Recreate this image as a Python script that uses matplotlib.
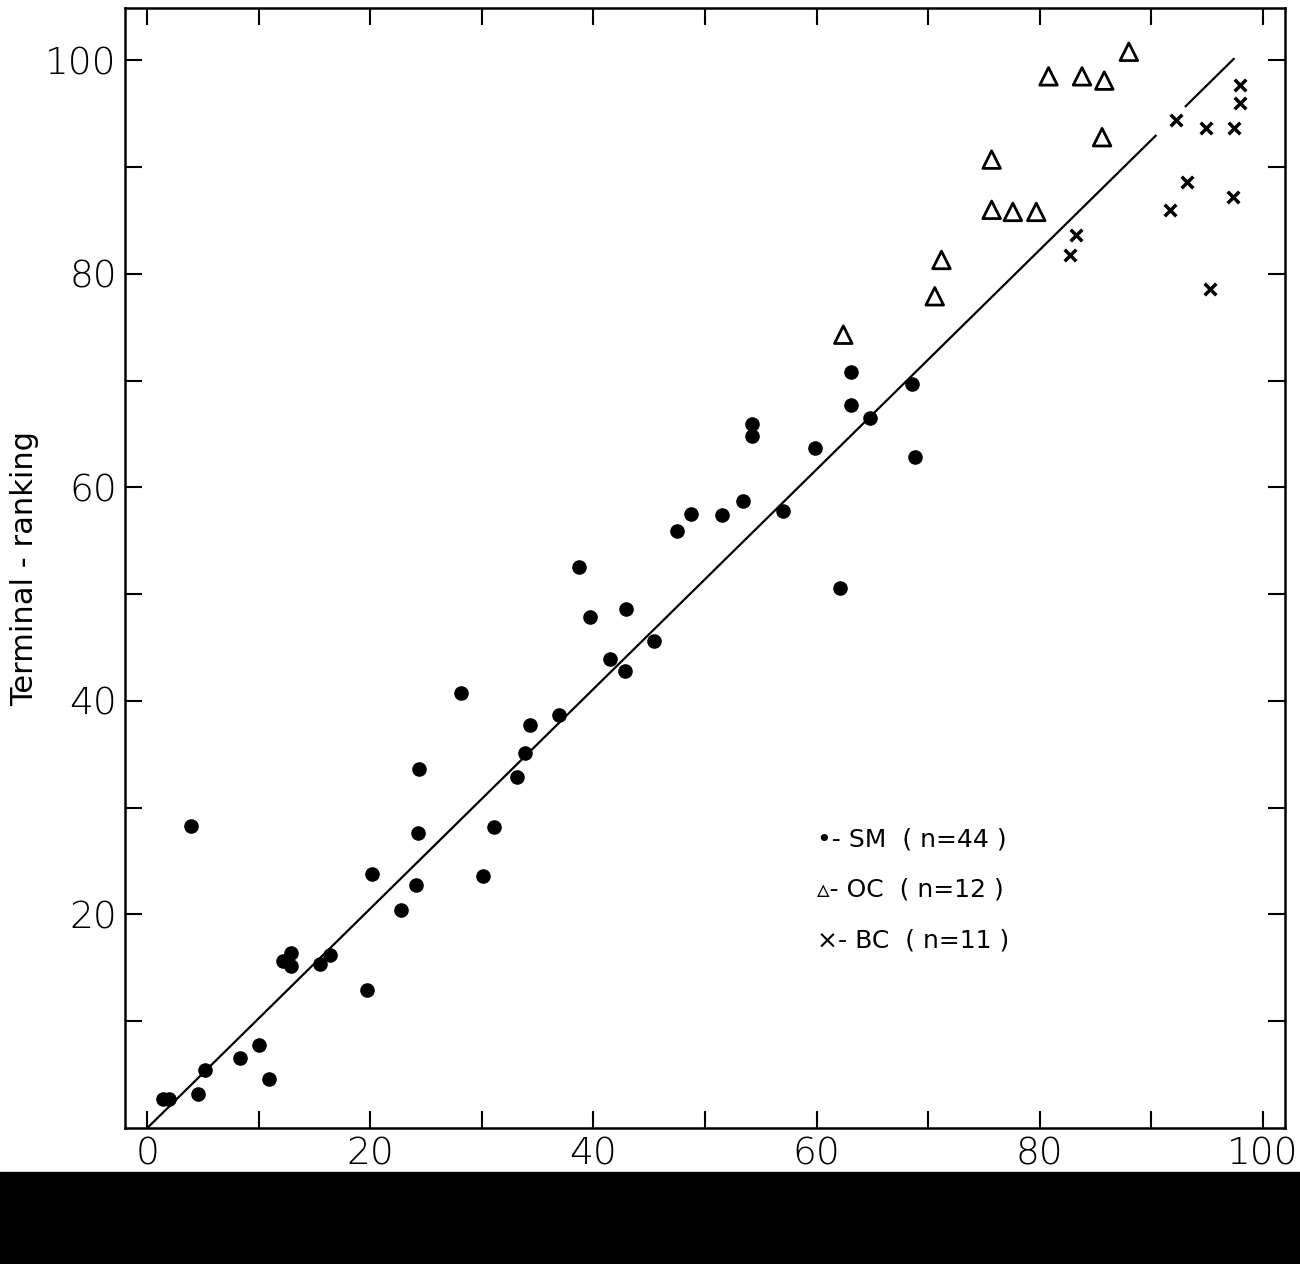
import matplotlib
matplotlib.use("Agg")
import matplotlib.pyplot as plt
import numpy as np

sm_x = [1.4,1.9,3.9,4.5,5.2,8.3,10,10.9,12.2,12.9,12.9,15.5,16.4,19.7,20.1,22.7,24.1,24.3,24.4,28.1,30.1,31.1,33.1,33.9,34.3,36.9,38.7,39.7,41.5,42.8,42.9,45.4,47.5,48.7,51.5,53.4,54.2,54.2,57.0,59.9,62.1,63.1,63.1,64.8,68.6,68.8]
sm_y = [2.7,2.7,28.3,3.2,5.4,6.6,7.8,4.6,15.6,16.4,15.2,15.4,16.2,12.9,23.8,20.4,22.8,27.6,33.6,40.7,23.6,28.2,32.9,35.1,37.7,38.7,52.5,47.9,43.9,42.8,48.6,45.6,55.9,57.5,57.4,58.7,65.9,64.8,57.8,63.7,50.6,67.7,70.8,66.5,69.7,62.8]
oc_x = [62.4,70.6,71.2,75.7,75.7,77.6,79.7,80.8,83.8,85.8,85.6,88.0]
oc_y = [74.3,77.9,81.3,90.7,86.0,85.8,85.8,98.5,98.5,98.1,92.8,100.8]
bc_x = [92.2,94.9,97.4,98.0,98.0,97.3,93.2,91.7,83.3,82.7,95.3]
bc_y = [94.4,93.7,93.7,97.7,96.0,87.2,88.6,86.0,83.6,81.8,78.6]
line1_x = [0, 90.4]
line2_x = [93.1, 97.4]
slope = 1.028
ticks = [0, 20, 40, 60, 80, 100]
legend_lines = ["•- SM  ( n=44 )", "▵- OC  ( n=12 )", "×- BC  ( n=11 )"]

plt.rcParams['font.family'] = ['DejaVu Sans']
fig = plt.figure(figsize=(13, 12.64), dpi=100)
ax = fig.add_axes([125/1300, 1 - 1128/1264, 1160/1300, 1120/1264])
ax.set_xlim(-2, 102)
ax.set_ylim(0, 104.9)

ax.scatter(sm_x, sm_y, s=90, c='black', marker='o', zorder=3)
ax.scatter(oc_x, oc_y, s=160, facecolors='none', edgecolors='black', marker='^', linewidths=2, zorder=3)
ax.scatter(bc_x, bc_y, s=70, c='black', marker='x', linewidths=2.5, zorder=3)
ax.plot(line1_x, [slope*v for v in line1_x], color='black', lw=1.6)
ax.plot(line2_x, [slope*v for v in line2_x], color='black', lw=1.6)

ax.set_xticks(ticks)
ax.set_yticks(ticks[1:])
ax.set_xticks(np.arange(10, 100, 20), minor=True)
ax.set_yticks(np.arange(10, 100, 20), minor=True)
ax.tick_params(which='both', direction='in', top=True, right=True, length=12, width=1.5, labelsize=27, pad=6)
for s in ax.spines.values():
    s.set_linewidth(1.8)
for lab in ax.get_xticklabels() + ax.get_yticklabels():
    lab.set_fontweight('light')
ax.set_ylabel("Terminal - ranking", fontsize=22, labelpad=4)

for i, t in enumerate(legend_lines):
    ax.text(60, 27.0 - 4.7*i, t, fontsize=18, va='center')

fig.patches.append(plt.Rectangle((0, 0), 1, 1 - 1172/1264, transform=fig.transFigure, color='black', zorder=-1))
fig.savefig("out.png", dpi=100)
